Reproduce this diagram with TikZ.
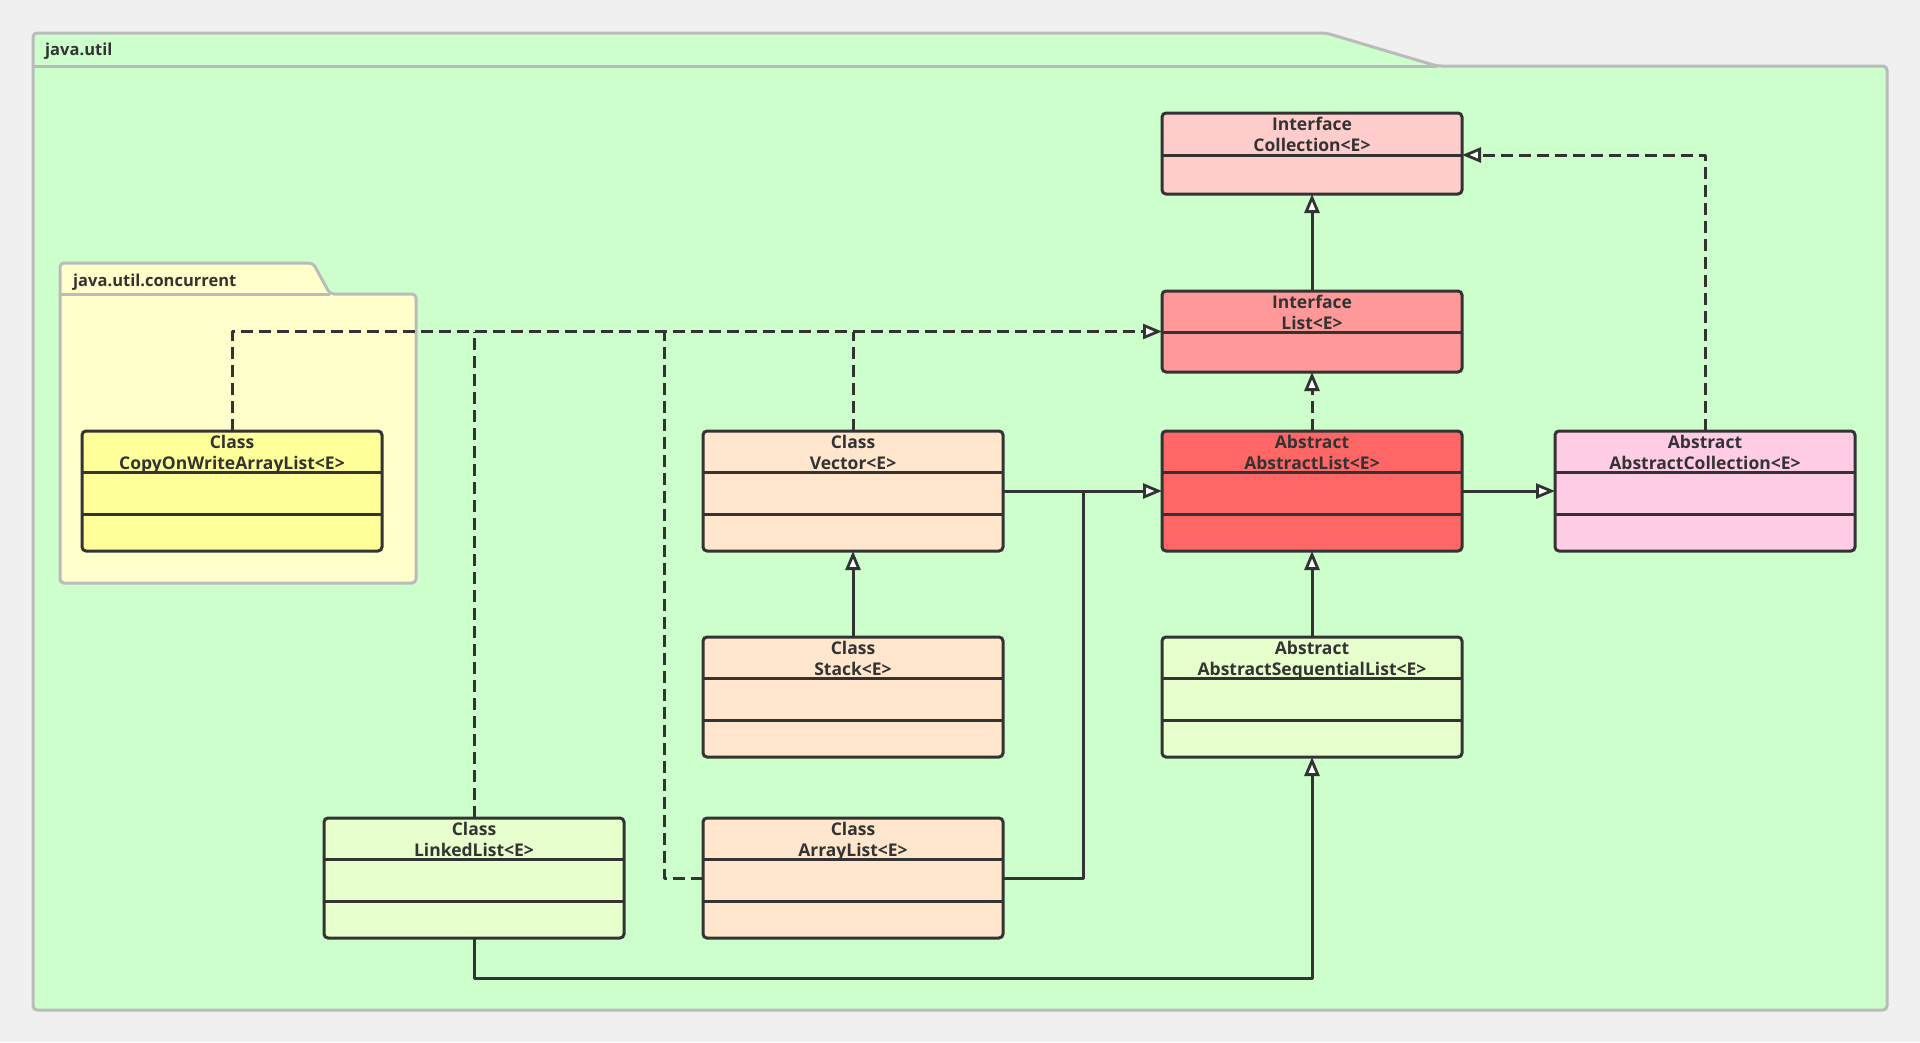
\documentclass[tikz,border=0pt]{standalone}
\usepackage{fontspec}
\setmainfont{Open Sans}
\usetikzlibrary{arrows.meta}
\definecolor{bgc}{HTML}{F0F0F0}
\definecolor{pkgfill}{HTML}{CCFFCC}
\definecolor{pkgline}{HTML}{BBBBBB}
\definecolor{concfill}{HTML}{FFFFCC}
\definecolor{lc}{HTML}{333333}
\definecolor{tc}{HTML}{333333}
\definecolor{collc}{HTML}{FFCCCC}
\definecolor{listc}{HTML}{FF9999}
\definecolor{alistc}{HTML}{FF6666}
\definecolor{acollc}{HTML}{FFCCE6}
\definecolor{peach}{HTML}{FFE6CC}
\definecolor{lgreen}{HTML}{E6FFCC}
\definecolor{yel}{HTML}{FFFF99}
\newcommand\umlclass[7]{%
  \node[box, fill=#5, minimum height=#4pt] (#1) at (#2,#3) {};
  \node[ttl] (#1-a) at ([yshift=-17pt]#1.north) {#6};
  \node[ttl] (#1-b) at ([yshift=-38pt]#1.north) {#7};
}
\newcommand\umldiv[2]{%
  \draw[divline] ([yshift=-#2pt]#1.north west) -- ([yshift=-#2pt]#1.north east);
}
\begin{document}
\begin{tikzpicture}[x=1pt,y=-1pt,
  box/.style={draw=lc, line width=3pt, rounded corners=4pt, minimum width=300pt,
    inner sep=0pt, outer sep=0pt, anchor=north west},
  divline/.style={draw=lc, line width=3pt},
  ttl/.style={font=\bfseries\fontsize{17.5}{20}\selectfont, text=tc, inner sep=0pt, anchor=base},
  pkglabel/.style={font=\bfseries\fontsize{16.5}{19}\selectfont, text=tc, inner sep=0pt, anchor=base west},
  pkg/.style={draw=pkgline, line width=3pt, rounded corners=4pt},
  conn/.style={draw=lc, line width=3pt, line join=round},
  real/.style={conn, -{Triangle[length=19pt,width=15pt,fill=white,line width=2.8pt]}},
  dreal/.style={real, dash pattern=on 12pt off 6pt},
  dline/.style={conn, dash pattern=on 12pt off 6pt}]
\useasboundingbox (0,0) rectangle (1920,1042);
\fill[bgc] (0,0) rectangle (1920,1042);
% package java.util
\draw[pkg, fill=pkgfill] (33,33) -- (1326,33) -- (1437,66) -- (1887,66) -- (1887,1010) -- (33,1010) -- cycle;
\draw[pkgline, line width=3pt] (33,66) -- (1437,66);
\node[pkglabel] (pkgutil) at (45,55) {java.util};
% package java.util.concurrent
\draw[pkg, fill=concfill] (60,263) -- (313,263) -- (330,294) -- (416,294) -- (416,583) -- (60,583) -- cycle;
\draw[pkgline, line width=3pt] (60,294) -- (330,294);
\node[pkglabel] (pkgconc) at (73,286) {java.util.concurrent};
% classes
\umlclass{coll}{1162}{113}{81}{collc}{Interface}{Collection<E>}
\umldiv{coll}{42}
\umlclass{list}{1162}{291}{81}{listc}{Interface}{List<E>}
\umldiv{list}{41}
\umlclass{cow}{82}{431}{120}{yel}{Class}{CopyOnWriteArrayList<E>}
\umldiv{cow}{41}\umldiv{cow}{83}
\umlclass{vector}{703}{431}{120}{peach}{Class}{Vector<E>}
\umldiv{vector}{41}\umldiv{vector}{83}
\umlclass{alist}{1162}{431}{120}{alistc}{Abstract}{AbstractList<E>}
\umldiv{alist}{41}\umldiv{alist}{83}
\umlclass{acoll}{1555}{431}{120}{acollc}{Abstract}{AbstractCollection<E>}
\umldiv{acoll}{41}\umldiv{acoll}{83}
\umlclass{stack}{703}{637}{120}{peach}{Class}{Stack<E>}
\umldiv{stack}{41}\umldiv{stack}{83}
\umlclass{aseq}{1162}{637}{120}{lgreen}{Abstract}{AbstractSequentialList<E>}
\umldiv{aseq}{41}\umldiv{aseq}{83}
\umlclass{linked}{324}{818}{120}{lgreen}{Class}{LinkedList<E>}
\umldiv{linked}{41}\umldiv{linked}{83}
\umlclass{array}{703}{818}{120}{peach}{Class}{ArrayList<E>}
\umldiv{array}{41}\umldiv{array}{83}
% helper coordinates
\coordinate (collmid) at ([yshift=-42pt]coll.north east);
\coordinate (ajoin) at (1083,490);
\coordinate (adash) at (664,332);
% connectors
\draw[real] (list.north) -- (coll.south);
\draw[dreal] (alist.north) -- (list.south);
\draw[dreal] (acoll.north) |- (collmid);
\draw[real] (alist.east) -- (acoll.west);
\draw[real] (vector.east) -- (alist.west);
\draw[conn] (array.east) -| (ajoin);
\draw[real] (stack.north) -- (vector.south);
\draw[real] (aseq.north) -- (alist.south);
\draw[real] (linked.south) -- ++(0,40) -| (aseq.south);
\draw[dreal] (cow.north) |- (list.west);
\draw[dline] (linked.north) -- (linked.north |- list.west);
\draw[dline] (vector.north) -- (vector.north |- list.west);
\draw[dline] (array.west) -| (adash);
\end{tikzpicture}
\end{document}
